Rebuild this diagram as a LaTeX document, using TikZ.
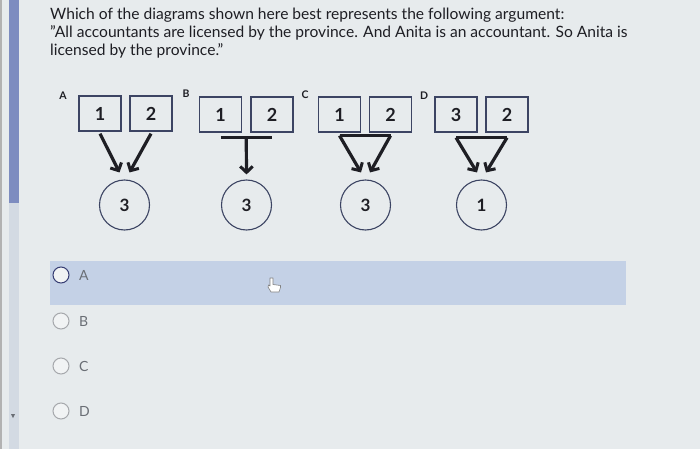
\documentclass[tikz,border=0pt]{standalone}
\usepackage{fontspec}
\setmainfont{Lato}
\usetikzlibrary{arrows.meta,calc}
\definecolor{bg}{HTML}{E7EBED}
\definecolor{boxc}{HTML}{3C4463}
\definecolor{band}{HTML}{C4D1E6}
\definecolor{txt}{HTML}{1E1E24}
\definecolor{opt}{HTML}{6A6E75}
\definecolor{scroll}{HTML}{7D8CC0}
\definecolor{track}{HTML}{D3DAE3}
\begin{document}
\begin{tikzpicture}[x=1pt,y=-1pt,
  box/.style={draw=boxc, line width=1.3pt, minimum width=42pt, minimum height=35pt, inner sep=0pt, text=txt, font=\fontsize{18}{18}\selectfont\bfseries},
  circ/.style={circle, draw=boxc, line width=1.1pt, minimum size=50pt, inner sep=0pt, text=txt, font=\fontsize{17}{17}\selectfont\bfseries},
  arr/.style={draw=txt, line width=3.2pt, -{Straight Barb[length=6pt,width=12.5pt,line width=3pt]}},
  bar/.style={draw=txt, line width=3.2pt},
  lab/.style={text=txt, font=\fontsize{10.5}{10.5}\selectfont\bfseries, inner sep=0pt},
  qtext/.style={anchor=base west, inner sep=0pt, text=txt, font=\fontsize{15.6}{18}\selectfont},
  radio/.style={circle, draw=#1, line width=1pt, minimum size=16pt, inner sep=0pt, fill=bg!60!white},
  optlab/.style={anchor=west, inner sep=0pt, text=opt, font=\fontsize{14}{14}\selectfont},
]
% background
\fill[bg] (0,0) rectangle (700,449);
\fill[gray!60] (0,0) rectangle (1.5,449);
\fill[track] (9,0) rectangle (19,449);
\fill[scroll] (9,0) rectangle (19,203);
\fill[opt] (11,414) -- (15,414) -- (13,418) -- cycle;

% question
\node[qtext] (q1) at (50,20) {Which of the diagrams shown here best represents the following argument:};
\node[qtext] (q2) at (50,38) {"All accountants are licensed by the province. And Anita is an accountant. So Anita is};
\node[qtext] (q3) at (50,56) {licensed by the province."};

% Diagram A
\node[lab] (la) at (63,96) {A};
\node[box] (a1) at (100,113.5) {1};
\node[box] (a2) at (151,113.5) {2};
\node[circ] (a3) at (124.5,205) {3};
\draw[arr] ([yshift=-2pt]a1.south) -- ([xshift=-5pt,yshift=7pt]a3.north);
\draw[arr] ([yshift=-2pt]a2.south) -- ([xshift=5pt,yshift=7pt]a3.north);

% Diagram B
\node[lab] (lb) at (186,94) {B};
\node[box] (b1) at (220.5,114.5) {1};
\node[box] (b2) at (272,114.5) {2};
\node[circ] (b3) at (246.5,205) {3};
\coordinate (bl) at ([yshift=-5pt]b1.south);
\coordinate (br) at ([yshift=-5pt]b2.south);
\coordinate (bm) at ($(bl)!0.5!(br)$);
\draw[bar] (bl) -- (br);
\draw[arr] (bm) -- ([yshift=5pt]b3.north);

% Diagram C
\node[lab] (lc) at (305,95) {C};
\node[box] (c1) at (339.5,114.5) {1};
\node[box] (c2) at (390.5,114.5) {2};
\node[circ] (c3) at (365.5,205) {3};
\coordinate (cl) at ([yshift=-3pt]c1.south);
\coordinate (cr) at ([yshift=-3pt]c2.south);
\draw[bar, line join=round] (cl) -- (cr);
\draw[arr] (cl) -- ([xshift=-4.5pt,yshift=7pt]c3.north);
\draw[arr] (cr) -- ([xshift=4.5pt,yshift=7pt]c3.north);

% Diagram D
\node[lab] (ld) at (424,96) {D};
\node[box] (d1) at (456,114.5) {3};
\node[box] (d2) at (507,114.5) {2};
\node[circ] (d3) at (481.5,205) {1};
\coordinate (dl) at ([yshift=-5pt]d1.south);
\coordinate (dr) at ([yshift=-5pt]d2.south);
\draw[bar, line join=round] (dl) -- (dr);
\draw[arr] (dl) -- ([xshift=-4.5pt,yshift=7pt]d3.north);
\draw[arr] (dr) -- ([xshift=4.5pt,yshift=7pt]d3.north);

% answer options
\fill[band] (50,261) rectangle (626,305);
\node[radio=boxc!90!blue] (ra) at (61,275) {};
\node[optlab] (ta) at (79,275) {A};
\node[radio=opt!60!white] (rb) at (61,321) {};
\node[optlab] (tb) at (79,321) {B};
\node[radio=opt!60!white] (rc) at (61,366) {};
\node[optlab] (tc) at (79,366) {C};
\node[radio=opt!60!white] (rd) at (61,411) {};
\node[optlab] (td) at (79,411) {D};

% hand cursor
\draw[gray, fill=white, line width=0.6pt, line join=round]
  (270,278) -- (270,286) -- (268.5,285) -- (268,287) -- (271,292) -- (279,292)
  -- (280.5,287.5) -- (280.5,285.5) -- (273,284.5) -- (273,278) -- cycle;
\end{tikzpicture}
\end{document}
